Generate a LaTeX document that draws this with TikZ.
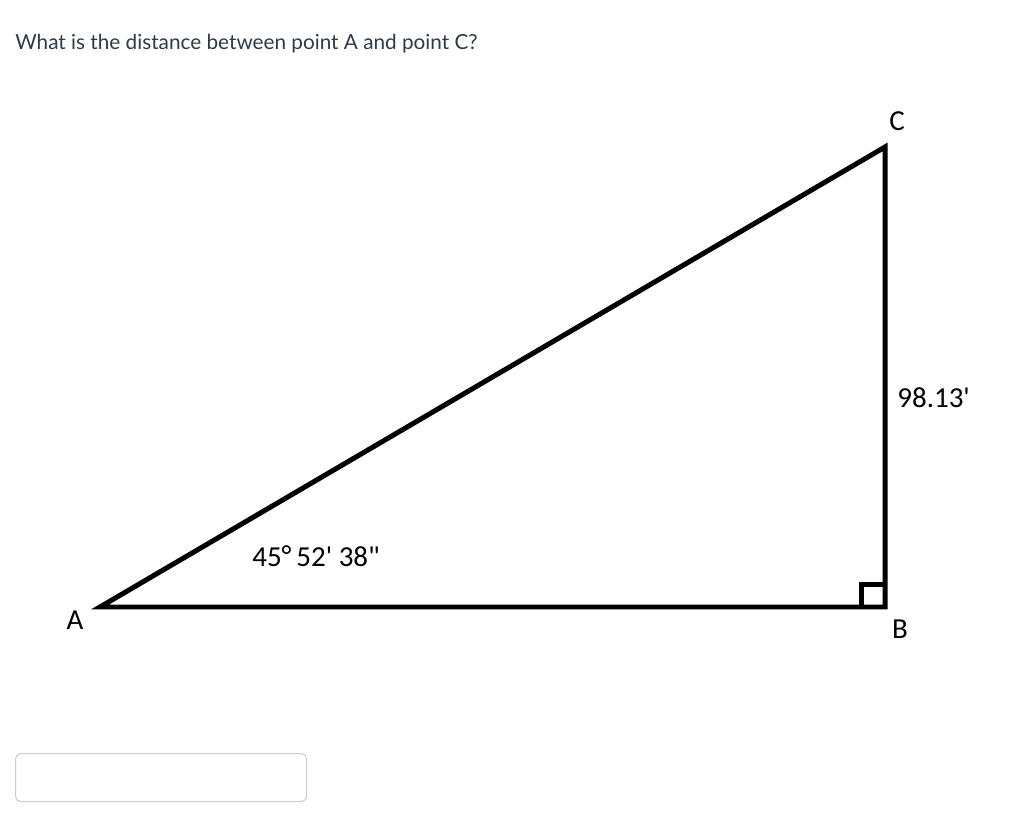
\documentclass[tikz,border=0pt]{standalone}
\usepackage{fontspec}
\usepackage{tikz}
\usetikzlibrary{calc}
\usepackage{color}
\setmainfont{Lato}
\newfontfamily\labelfont{Carlito}[Ligatures=TeXOff]
\definecolor{qtext}{HTML}{2D3B45}
\definecolor{boxline}{HTML}{C7CDD1}

\begin{document}
\begin{tikzpicture}[x=0.02cm,y=-0.02cm,
    side/.style={line width=0.1cm, black},
    vlabel/.style={font=\labelfont\fontsize{16.5}{19}\selectfont, inner sep=0pt}]
      \useasboundingbox (0,0) rectangle (1024,830);
      \node (question) at (15,50) [anchor=base west, inner sep=0pt, text=qtext,
        font=\fontsize{11.8}{14}\selectfont] {What is the distance between point A and point C?};
      \coordinate (A) at (100,607);
      \coordinate (B) at (885,607);
      \coordinate (C) at (885,147);
      \draw[side] (A) -- (B) -- (C) -- cycle;
      \draw[side] ($(B)+(-24,0)$) -- ++(0,-22) -- ++(24,0);
      \node (labA) at (75,620) [vlabel] {A};
      \node (labB) at (900,629) [vlabel] {B};
      \node (labC) at (897,121) [vlabel] {C};
      \node (side) at (897,408) [vlabel, anchor=base west] {98.13'};
      \node (angle) at (252,567) [vlabel, anchor=base west] {45\raisebox{1pt}{°}\,52' 38"};
      \node (answer) at (15,753) [draw=boxline, line width=0.6pt, rounded corners=3pt,
        anchor=north west, minimum width=291*0.02cm, minimum height=48*0.02cm] {};
    \end{tikzpicture}
\end{document}
